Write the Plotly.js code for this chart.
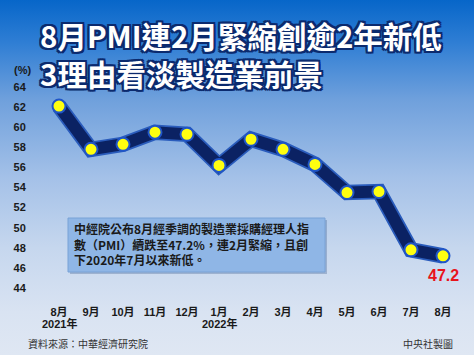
<!DOCTYPE html>
<html>
<head>
<meta charset="utf-8">
<script src="https://cdn.plot.ly/plotly-3.0.1.min.js"></script>
<style>
  html, body { margin: 0; padding: 0; }
  body { width: 474px; height: 355px; overflow: hidden;
    background: linear-gradient(to bottom, #0766c9 0%, #2f7ed4 12%, #6fa0dc 28%, #a4c1e8 50%, #c6d7ee 70%, #d9e3f2 88%, #dfe7f3 100%); }
  #chart { width: 474px; height: 355px; }
</style>
</head>
<body>
<div id="chart"></div>
<script>
// ---- data ----
const periods = ['2021-08','2021-09','2021-10','2021-11','2021-12','2022-01','2022-02','2022-03','2022-04','2022-05','2022-06','2022-07','2022-08'];
const monthLabels = ['8月','9月','10月','11月','12月','1月','2月','3月','4月','5月','6月','7月','8月'];
const pmiValues = [62.1, 57.8, 58.3, 59.5, 59.3, 56.2, 58.8, 57.8, 56.3, 53.5, 53.6, 47.8, 47.2];
const yearLabels = ['2021年', '2022年'];
const yearAt = ['2021-08', '2022-01'];
const yTicks = [44, 46, 48, 50, 52, 54, 56, 58, 60, 62, 64];
const titleText = '8月PMI連2月緊縮創逾2年新低<br>3理由看淡製造業前景';
const noteLines = ['中經院公布8月經季調的製造業採購經理人指', '數（PMI）續跌至47.2%，連2月緊縮，且創', '下2020年7月以來新低。'];
const sourceText = '資料來源：中華經濟研究院';
const creditText = '中央社製圖';

const CJK = 'Noto Sans CJK TC';
const tickFamily = 'Liberation Sans, ' + CJK;

const lastIdx = pmiValues.length - 1;

const traces = [
  { x: periods, y: pmiValues, type: 'scatter', mode: 'lines',
    line: { color: '#2a5cbc', width: 15.5 }, hoverinfo: 'skip', cliponaxis: false },
  { x: periods, y: pmiValues, type: 'scatter', mode: 'lines+markers',
    line: { color: '#0b2263', width: 12 },
    marker: { size: 13, color: '#ffff10', line: { color: '#1f55c8', width: 2 } },
    cliponaxis: false }
];

// plot area pixel geometry helpers
const L = 43, R = 459, T = 87, B = 288;
const px = v => (v - L) / (R - L);
const py = v => (B - v) / (B - T);

const annotations = [
  { text: '(%)', xref: 'paper', yref: 'paper', x: px(22), y: py(70), xanchor: 'center', yanchor: 'middle', showarrow: false,
    font: { family: tickFamily, size: 11, color: '#1a1a1a', weight: 'bold' } },
  { text: String(pmiValues[lastIdx]), xref: 'x', yref: 'y', x: periods[lastIdx], y: pmiValues[lastIdx],
    xanchor: 'center', yanchor: 'middle', yshift: -20, showarrow: false,
    font: { family: 'Liberation Sans', size: 16, color: '#e8141b', weight: 'bold' } },
  { text: sourceText, xref: 'paper', yref: 'paper', x: px(26), y: py(343), xanchor: 'left', yanchor: 'middle', showarrow: false,
    font: { family: CJK, size: 10, color: '#333333' } },
  { text: creditText, xref: 'paper', yref: 'paper', x: px(455), y: py(343), xanchor: 'right', yanchor: 'middle', showarrow: false,
    font: { family: CJK, size: 10, color: '#333333' } },
  { text: noteLines.join('<br>'), xref: 'paper', yref: 'paper', x: px(72), y: py(244), xanchor: 'left', yanchor: 'middle',
    align: 'left', showarrow: false,
    font: { family: CJK, size: 12, color: '#1a1a1a', weight: 'bold' } }
];
yearLabels.forEach((t, i) => annotations.push({
  text: t, xref: 'x', yref: 'paper', x: yearAt[i], y: py(323.5), xanchor: 'center', yanchor: 'middle', showarrow: false,
  font: { family: tickFamily, size: 11, color: '#1a1a1a', weight: 'bold' }
}));

const shapes = [
  { type: 'rect', xref: 'paper', yref: 'paper', x0: px(70), x1: px(327), y0: py(274), y1: py(220),
    fillcolor: 'rgba(70,100,150,0.35)', line: { width: 0 }, layer: 'below' },
  { type: 'rect', xref: 'paper', yref: 'paper', x0: px(68), x1: px(325), y0: py(272), y1: py(218),
    fillcolor: '#8fb6e6', line: { color: '#78a2d6', width: 1 }, layer: 'below' }
];

const layout = {
  width: 474, height: 355,
  margin: { l: L, r: 474 - R, t: T, b: 355 - B, pad: 0 },
  paper_bgcolor: 'rgba(0,0,0,0)', plot_bgcolor: 'rgba(0,0,0,0)',
  showlegend: false,
  title: { text: titleText, xref: 'container', yref: 'container', x: 40 / 474, xanchor: 'left',
    y: 1 - 48 / 355, yanchor: 'middle',
    font: { family: CJK, size: 29.5, color: '#ffffff', weight: 'bold',
      shadow: '-2px -2px 0 #0b2a6e, 2px -2px 0 #0b2a6e, -2px 2px 0 #0b2a6e, 2px 2px 0 #0b2a6e, 0 2px 0 #0b2a6e, 0 -2px 0 #0b2a6e, 2px 0 0 #0b2a6e, -2px 0 0 #0b2a6e' } },
  xaxis: { type: 'category', range: [-0.5, periods.length - 0.5], tickvals: periods, ticktext: monthLabels,
    showgrid: false, zeroline: false, showline: false,
    ticks: 'outside', ticklen: 14, tickcolor: 'rgba(0,0,0,0)',
    tickfont: { family: tickFamily, size: 11, color: '#1a1a1a', weight: 'bold' }, fixedrange: true },
  yaxis: { range: [44, 64], tickvals: yTicks, showgrid: false, zeroline: false, showline: false,
    ticks: 'outside', ticklen: 14, tickcolor: 'rgba(0,0,0,0)',
    tickfont: { family: tickFamily, size: 11, color: '#1a1a1a', weight: 'bold' }, fixedrange: true },
  annotations: annotations,
  shapes: shapes
};

Plotly.newPlot('chart', traces, layout, { displayModeBar: false, staticPlot: true });
</script>
</body>
</html>
